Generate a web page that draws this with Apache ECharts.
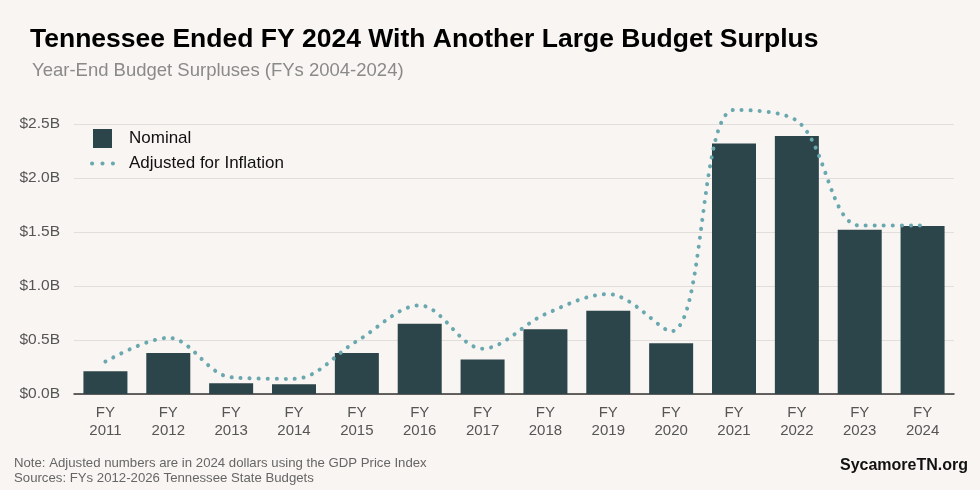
<!DOCTYPE html>
<html>
<head>
<meta charset="utf-8">
<script src="https://cdn.jsdelivr.net/npm/echarts@6/dist/echarts.min.js"></script>
<style>
html,body{margin:0;padding:0;background:#f9f5f2;}
#c{width:980px;height:490px;}
</style>
</head>
<body>
<div id="c"></div>
<script>
const categories = ['FY\n2011','FY\n2012','FY\n2013','FY\n2014','FY\n2015','FY\n2016','FY\n2017','FY\n2018','FY\n2019','FY\n2020','FY\n2021','FY\n2022','FY\n2023','FY\n2024'];
const nominal = [0.21, 0.38, 0.10, 0.09, 0.38, 0.65, 0.32, 0.60, 0.77, 0.47, 2.32, 2.39, 1.52, 1.555];
const adjusted = [0.30, 0.52, 0.155, 0.14, 0.49, 0.82, 0.42, 0.74, 0.925, 0.58, 2.63, 2.53, 1.56, 1.56];
const yTicks = [0, 0.5, 1.0, 1.5, 2.0, 2.5];

const FONT = 'Liberation Sans, Arial, sans-serif';
const dotsIcon = 'path://M0,2a2,2 0 1,0 4,0a2,2 0 1,0 -4,0zM10,2a2,2 0 1,0 4,0a2,2 0 1,0 -4,0zM20,2a2,2 0 1,0 4,0a2,2 0 1,0 -4,0z';

const chart = echarts.init(document.getElementById('c'));
chart.setOption({
  backgroundColor: '#f9f5f2',
  animation: false,
  title: [
    {text: 'Tennessee Ended FY 2024 With Another Large Budget Surplus', left: 30, top: 26, padding: 0,
     textStyle: {fontFamily: FONT, fontSize: 26.5, fontWeight: 'bold', color: '#000'}},
    {text: 'Year-End Budget Surpluses (FYs 2004-2024)', left: 32, top: 61, padding: 0,
     textStyle: {fontFamily: FONT, fontSize: 18.5, fontWeight: 'normal', color: '#8a8a8a'}},
    {text: 'Note: Adjusted numbers are in 2024 dollars using the GDP Price Index\nSources: FYs 2012-2026 Tennessee State Budgets', left: 14, top: 456, padding: 0,
     textStyle: {fontFamily: FONT, fontSize: 13.2, fontWeight: 'normal', color: '#666', lineHeight: 15}},
    {text: 'SycamoreTN.org', right: 12, top: 458, padding: 0,
     textStyle: {fontFamily: FONT, fontSize: 16, fontWeight: 'bold', color: '#111'}}
  ],
  legend: {
    orient: 'vertical', left: 90, top: 129, padding: 0, itemWidth: 25, itemHeight: 19, itemGap: 7,
    textStyle: {fontFamily: FONT, fontSize: 17, color: '#111', padding: [0, 0, 0, 9]},
    data: [
      {name: 'Nominal', icon: 'path://M0,0h10v10h-10z'},
      {name: 'Adjusted for Inflation', icon: dotsIcon, itemStyle: {color: '#6aa8b0'}}
    ]
  },
  grid: {left: 74, right: 26, top: 124, bottom: 96, containLabel: false},
  xAxis: {
    type: 'category', data: categories,
    axisLine: {lineStyle: {color: '#333', width: 1.5}},
    axisTick: {show: false},
    axisLabel: {fontFamily: FONT, fontSize: 15, color: '#555', lineHeight: 18, margin: 10}
  },
  yAxis: {
    type: 'value', min: 0, max: 2.5, interval: 0.5,
    axisLine: {show: false}, axisTick: {show: false},
    splitLine: {lineStyle: {color: '#e2dedb', width: 1}},
    axisLabel: {fontFamily: FONT, fontSize: 15.5, color: '#555', margin: 14,
      formatter: v => '$' + v.toFixed(1) + 'B'}
  },
  series: [
    {name: 'Nominal', type: 'bar', data: nominal, barCategoryGap: '30%',
     itemStyle: {color: '#2c454a'}, z: 2},
    {name: 'Adjusted for Inflation', type: 'line', data: adjusted, smooth: 0.35, symbol: 'none', clip: false,
     lineStyle: {color: '#6aa8b0', width: 4, type: [0.1, 8.9], cap: 'round'},
     itemStyle: {color: '#6aa8b0'}, z: 3}
  ]
});
</script>
</body>
</html>
